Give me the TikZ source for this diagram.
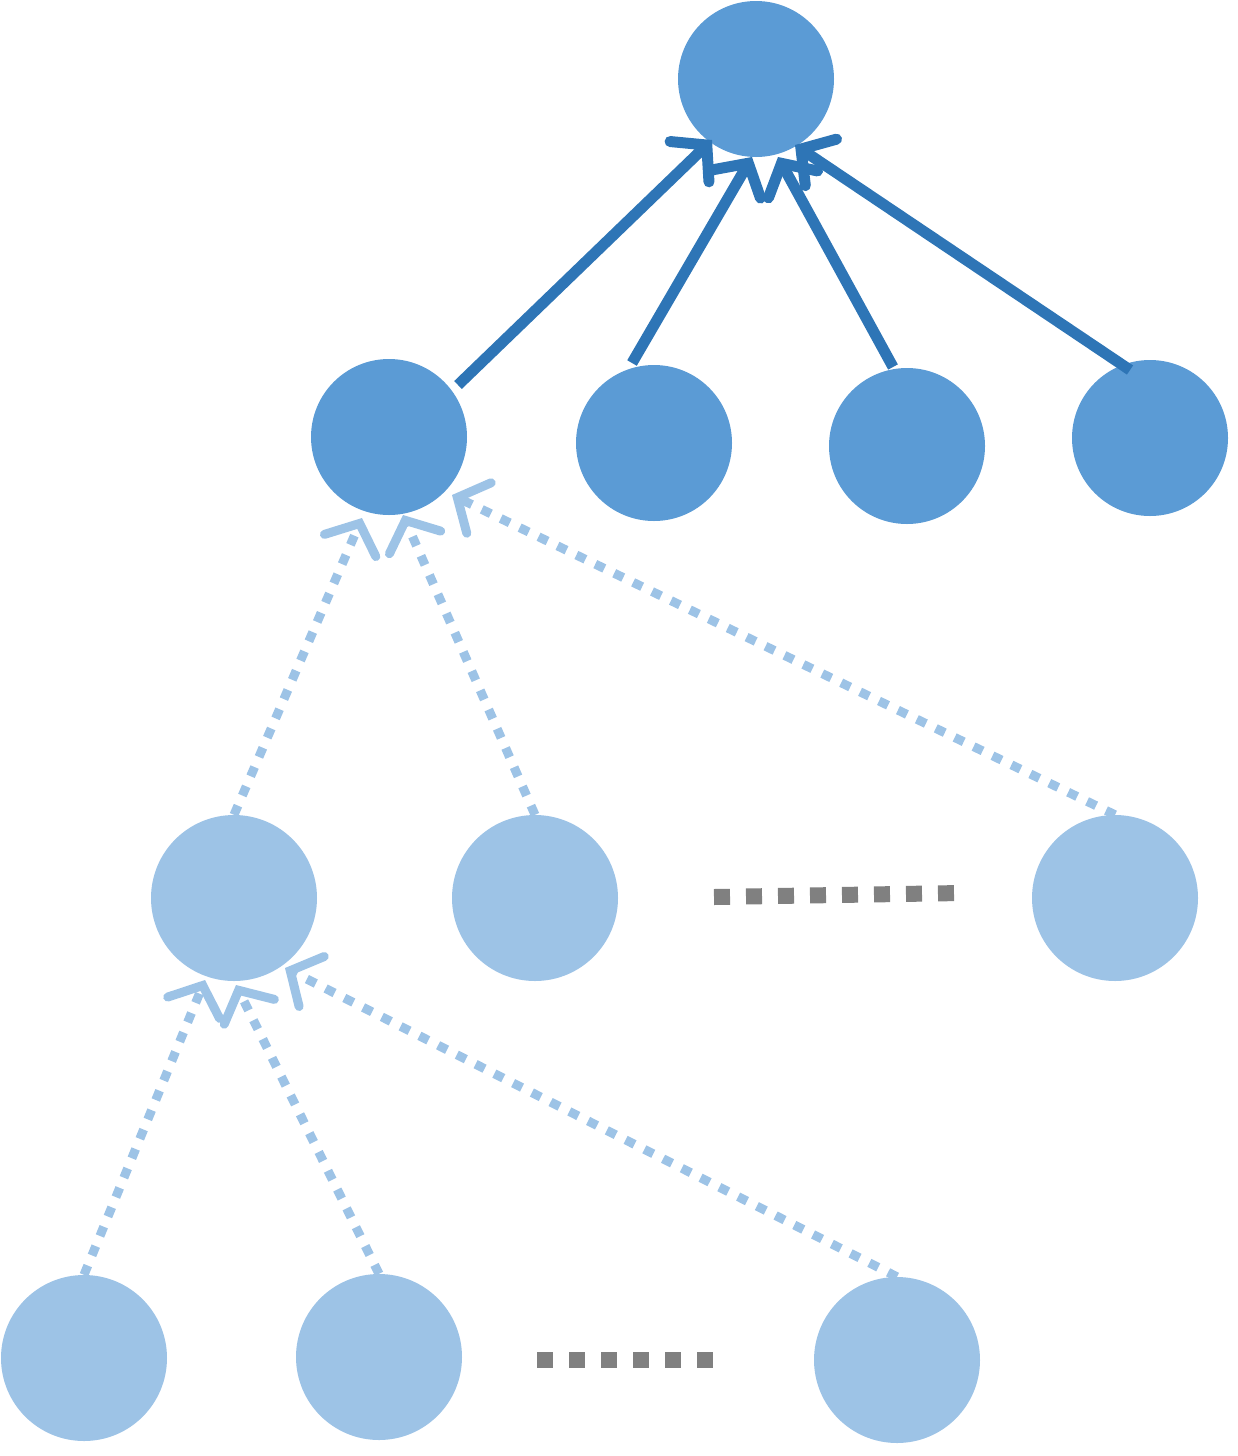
\documentclass[tikz,border=0pt]{standalone}
\usetikzlibrary{arrows.meta}
\definecolor{dk}{HTML}{5B9BD5}
\definecolor{dkl}{HTML}{2E75B6}
\definecolor{lt}{HTML}{9DC3E6}
\definecolor{gr}{HTML}{808080}
\begin{document}
\begin{tikzpicture}[x=1pt,y=-1pt,
 dnode/.style={circle,fill=dk,minimum size=156pt,inner sep=0pt},
 lnode/.style={circle,fill=lt,minimum size=166pt,inner sep=0pt},
 dline/.style={draw=dkl,line width=11pt,-{Straight Barb[length=24pt,width=56pt,line cap=round]}},
 lline/.style={draw=lt,line width=9pt,dash pattern=on 10pt off 11pt,-{Straight Barb[length=24pt,width=56pt,line cap=round,sep=0pt]}},
 gline/.style={draw=gr,line width=16pt,dash pattern=on 16pt off 16pt}]
\useasboundingbox (0,0) rectangle (1237,1456);
\node[dnode] (r) at (756,79) {};
\node[dnode] (a) at (389,437) {};
\node[dnode] (b) at (654,443) {};
\node[dnode] (c) at (907,446) {};
\node[dnode] (d) at (1150,438) {};
\node[lnode] (e) at (234,898) {};
\node[lnode] (f) at (535,898) {};
\node[lnode] (g) at (1115,898) {};
\node[lnode] (h) at (84,1358) {};
\node[lnode] (i) at (379,1357) {};
\node[lnode] (j) at (897,1360) {};
\coordinate (rt1) at (712,140); \coordinate (rt2) at (752,157);
\coordinate (rt3) at (778,157); \coordinate (rt4) at (795,145);
\coordinate (a1) at (458,385); \coordinate (b1) at (632,363);
\coordinate (c1) at (893,367); \coordinate (d1) at (1130,370);
\draw[dline] (a1) -- (rt1);
\draw[dline] (b1) -- (rt2);
\draw[dline] (c1) -- (rt3);
\draw[dline] (d1) -- (rt4);
\coordinate (at1) at (362,518); \coordinate (at2) at (403,515); \coordinate (at3) at (452,495);
\draw[lline] (e.north) -- (at1);
\draw[lline] (f.north) -- (at2);
\draw[lline] (g.north) -- (at3);
\coordinate (et1) at (205,980); \coordinate (et2) at (236,985); \coordinate (et3) at (285,968);
\draw[lline] (h.north) -- (et1);
\draw[lline] (i.north) -- (et2);
\draw[lline] (j.north) -- (et3);
\coordinate (g1) at (714,897); \coordinate (g2) at (962,893);
\coordinate (g3) at (537,1360); \coordinate (g4) at (722,1360);
\draw[gline] (g1) -- (g2);
\draw[gline] (g3) -- (g4);
\end{tikzpicture}
\end{document}
